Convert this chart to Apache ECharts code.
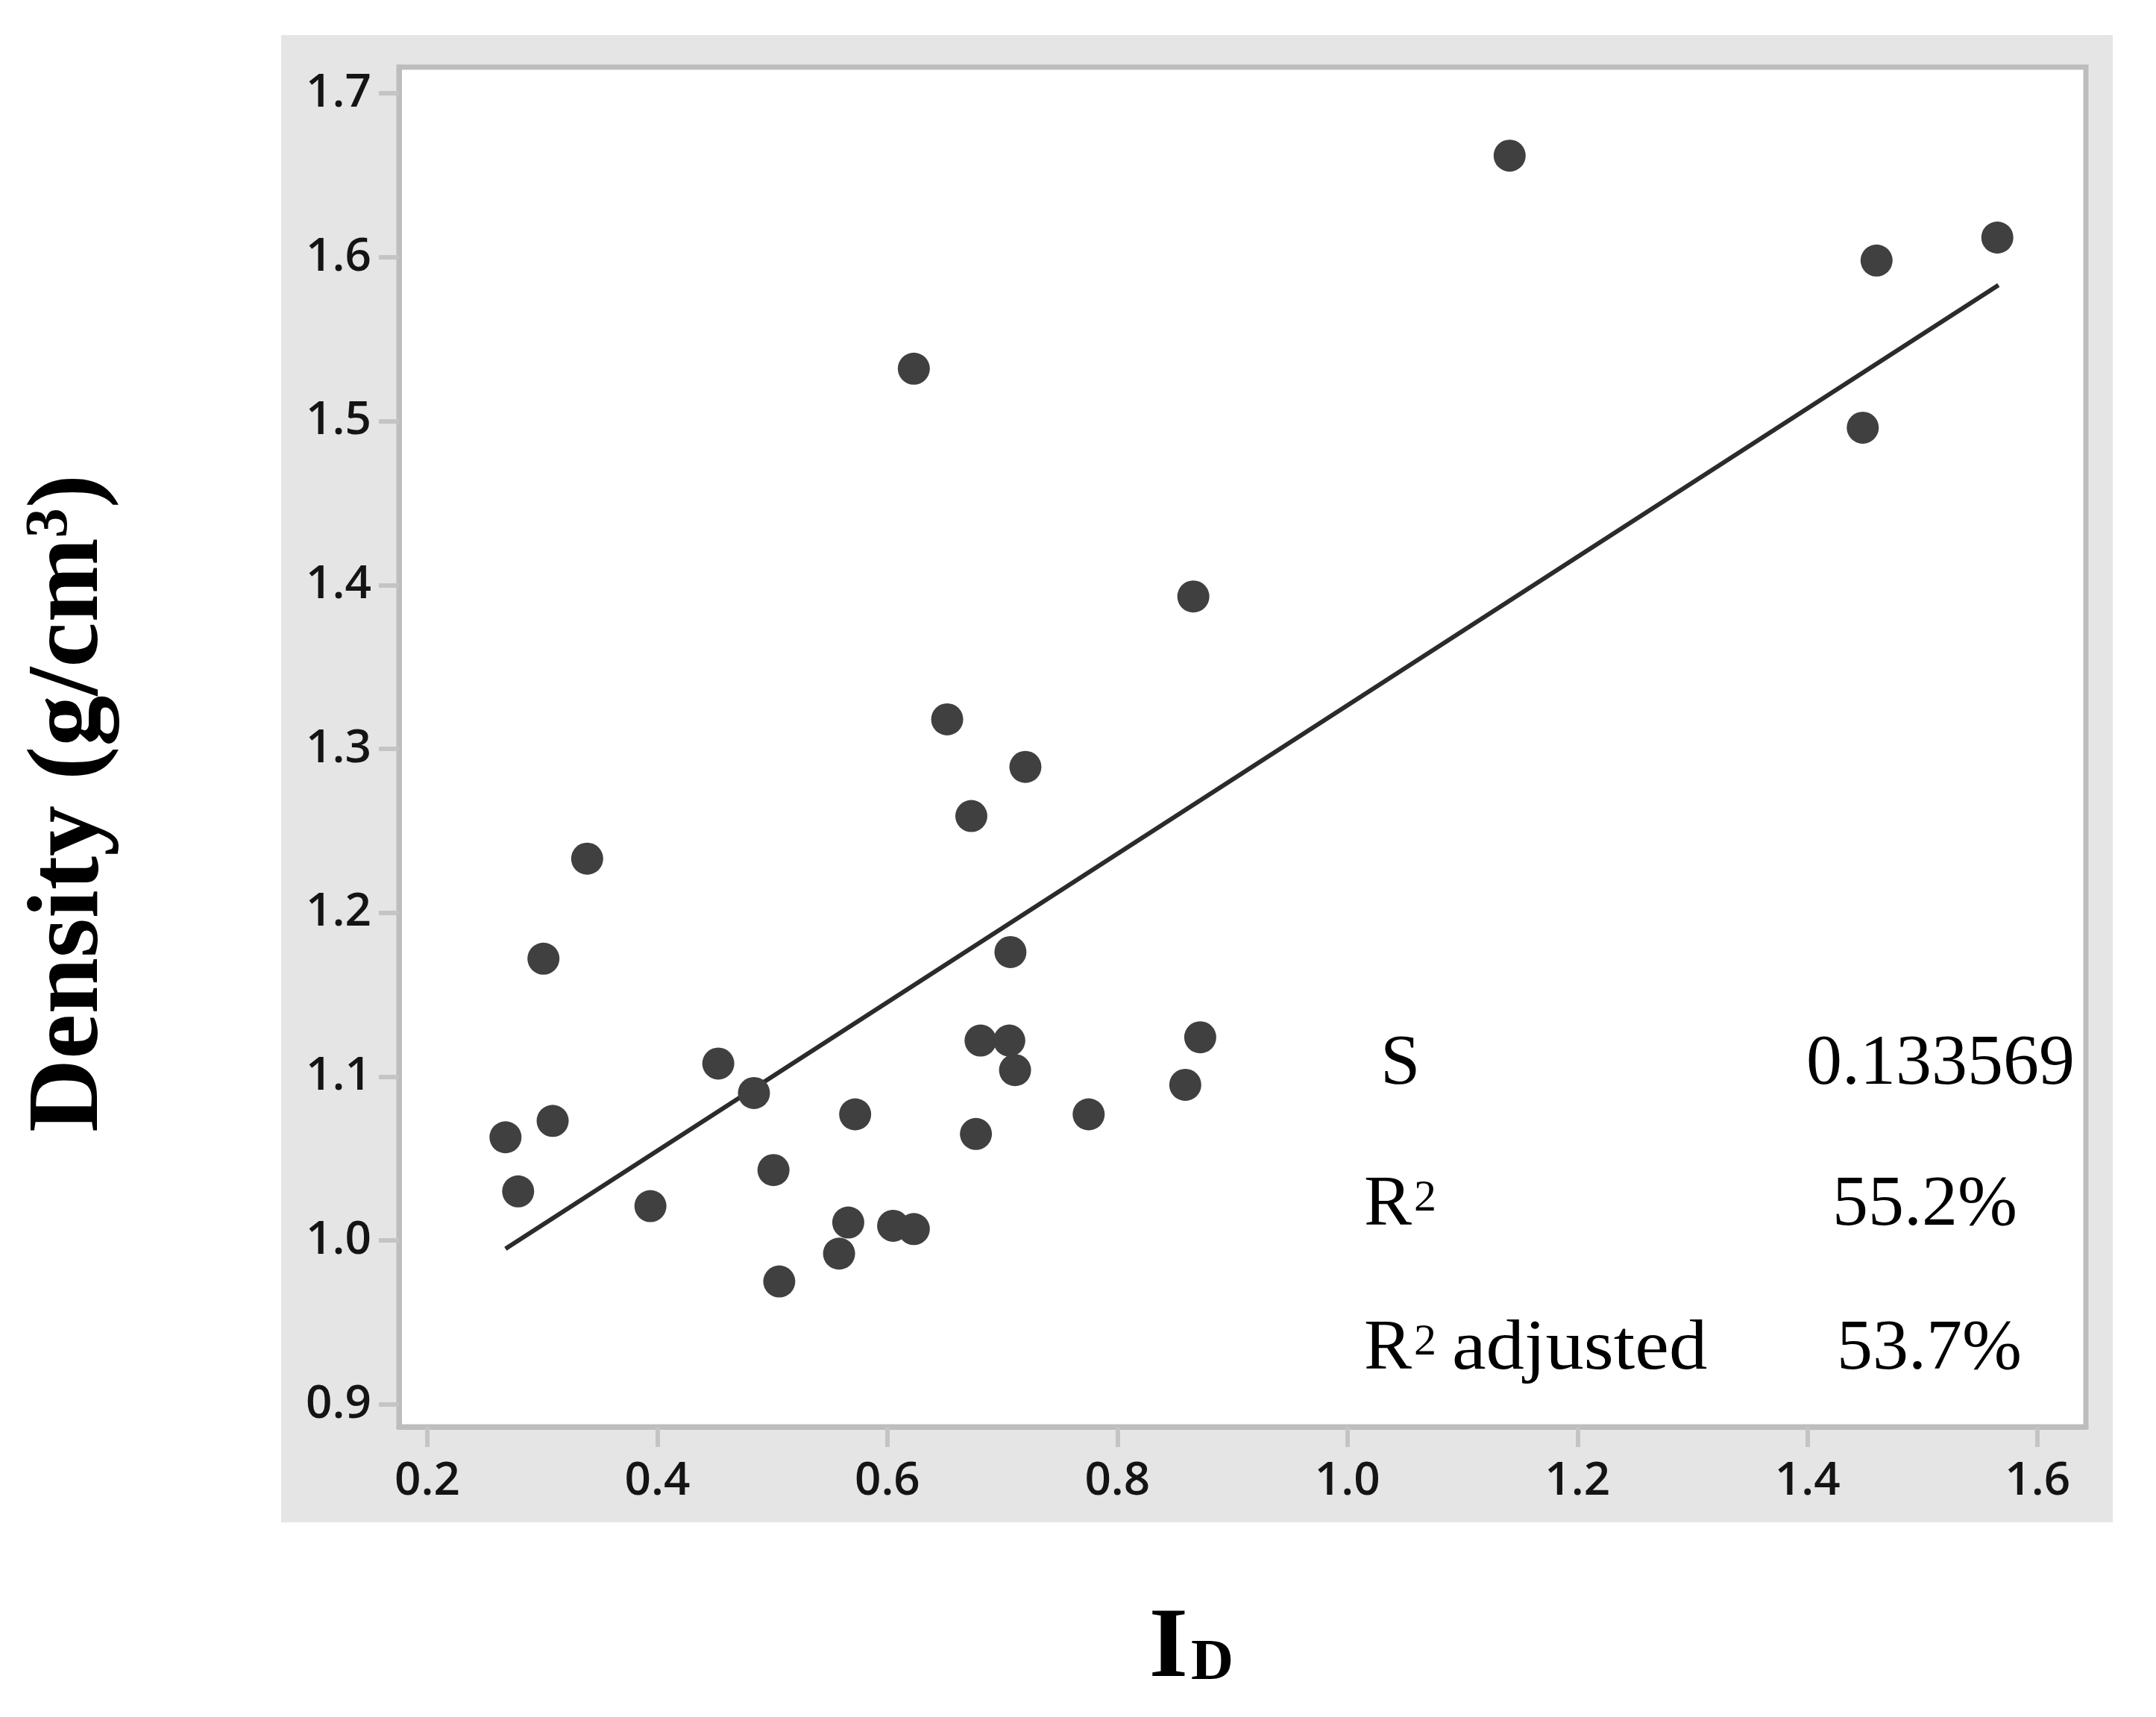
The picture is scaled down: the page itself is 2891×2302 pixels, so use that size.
<!DOCTYPE html>
<html><head><meta charset="utf-8">
<script src="https://cdn.jsdelivr.net/npm/echarts@6/dist/echarts.min.js"></script>
<style>html,body{margin:0;padding:0;background:#fff}#c{width:2891px;height:2302px}</style>
</head><body><div id="c"></div>
<script>
// ---- data ----
const idValues = [1.141, 1.460, 1.565, 1.448, 0.623, 0.866, 0.652, 0.720, 0.673, 0.339,
  0.301, 0.707, 0.681, 0.706, 0.711, 0.872, 0.859, 0.775, 0.453, 0.484,
  0.572, 0.677, 0.268, 0.309, 0.279, 0.394, 0.501, 0.566, 0.605, 0.623,
  0.558, 0.506];
const densityValues = [1.662, 1.598, 1.612, 1.496, 1.532, 1.393, 1.318, 1.289, 1.259, 1.233,
  1.172, 1.176, 1.122, 1.122, 1.104, 1.124, 1.095, 1.077, 1.108, 1.090,
  1.077, 1.065, 1.063, 1.073, 1.030, 1.021, 1.043, 1.011, 1.009, 1.007,
  0.992, 0.975];
const fitLineX = [0.268, 1.566];
const fitLineY = [0.995, 1.583];
const xTickValues = [0.2, 0.4, 0.6, 0.8, 1.0, 1.2, 1.4, 1.6];
const yTickValues = [0.9, 1.0, 1.1, 1.2, 1.3, 1.4, 1.5, 1.6, 1.7];
const statNames = ['S', 'R', 'R'];
const statSup = ['', '2', '2'];
const statSuffix = ['', '', 'adjusted'];
const statValues = ['0.133569', '55.2%', '53.7%'];

const chart = echarts.init(document.getElementById('c'), null, {renderer: 'canvas'});
const scatterData = idValues.map((x, i) => [x, densityValues[i]]);
const lineData = fitLineX.map((x, i) => [x, fitLineY[i]]);

const serif = '"Liberation Serif", "DejaVu Serif", serif';
const statFont = 96;
const rowY = [1428, 1617, 1810];
const nameX = [1851, 1829, 1829];
const valueX = [2422, 2457, 2463];
const graphics = [
  {type: 'rect', z: -10, silent: true, shape: {x: 377, y: 47, width: 2456, height: 1994}, style: {fill: '#e5e5e5'}},
  {type: 'text', x: 95, y: 1077, rotation: Math.PI / 2, z: 10,
    style: {text: '{a|Density (g/cm}{s|3}{a|)}', align: 'center', verticalAlign: 'middle',
      rich: {a: {fontFamily: serif, fontWeight: 'bold', fontSize: 136, lineHeight: 150, fill: '#000'},
             s: {fontFamily: serif, fontWeight: 'bold', fontSize: 80, lineHeight: 150, verticalAlign: 'top', fill: '#000', padding: [8, 0, 0, 0]}}}},
  {type: 'text', x: 1593, y: 2212, z: 10, style: {text: 'I', font: 'bold 134px ' + serif, fill: '#000', align: 'right', verticalAlign: 'middle'}},
  {type: 'text', x: 1597, y: 2231, z: 10, style: {text: 'D', font: 'bold 79px ' + serif, fill: '#000', align: 'left', verticalAlign: 'middle'}}
];
statNames.forEach((n, i) => {
  graphics.push({type: 'text', x: nameX[i], y: rowY[i], z: 10,
    style: {text: n, font: statFont + 'px ' + serif, fill: '#000', align: 'left', verticalAlign: 'middle'}});
  if (statSup[i]) {
    graphics.push({type: 'text', x: nameX[i] + 67, y: rowY[i] - 10, z: 10,
      style: {text: statSup[i], font: '60px ' + serif, fill: '#000', align: 'left', verticalAlign: 'middle'}});
  }
  if (statSuffix[i]) {
    graphics.push({type: 'text', x: nameX[i] + 118, y: rowY[i], z: 10, scaleX: 1.07,
      style: {text: statSuffix[i], font: statFont + 'px ' + serif, fill: '#000', align: 'left', verticalAlign: 'middle'}});
  }
  graphics.push({type: 'text', x: valueX[i], y: rowY[i], z: 10,
    style: {text: statValues[i], font: statFont + 'px ' + serif, fill: '#000', align: 'left', verticalAlign: 'middle'}});
});

const tickLabel = {fontFamily: '"Open Sans", sans-serif', fontWeight: 600, fontSize: 62, color: '#141414'};
chart.setOption({
  animation: false,
  backgroundColor: '#ffffff',
  grid: {left: 535, top: 90, width: 2262, height: 1823, show: true, backgroundColor: '#ffffff',
    borderColor: '#bdbdbd', borderWidth: 7, containLabel: false},
  xAxis: {type: 'value', min: 0.1754, max: 1.642,
    axisLine: {show: true, lineStyle: {color: '#bdbdbd', width: 7}},
    axisTick: {show: true, customValues: xTickValues, length: 27, lineStyle: {color: '#c4c4c4', width: 6}},
    axisLabel: Object.assign({customValues: xTickValues, margin: 42, formatter: v => v.toFixed(1)}, tickLabel),
    splitLine: {show: false}},
  yAxis: {type: 'value', min: 0.8863, max: 1.716,
    axisLine: {show: true, lineStyle: {color: '#bdbdbd', width: 7}},
    axisTick: {show: true, customValues: yTickValues, length: 27, lineStyle: {color: '#c4c4c4', width: 6}},
    axisLabel: Object.assign({customValues: yTickValues, margin: 37, formatter: v => v.toFixed(1)}, tickLabel),
    splitLine: {show: false}},
  graphic: graphics,
  series: [
    {type: 'line', data: lineData, symbol: 'none', z: 2,
      lineStyle: {color: '#2b2b2b', width: 6}},
    {type: 'scatter', data: scatterData, symbol: 'circle', symbolSize: 43, z: 3,
      itemStyle: {color: '#404040', opacity: 1}}
  ]
});
</script></body></html>
